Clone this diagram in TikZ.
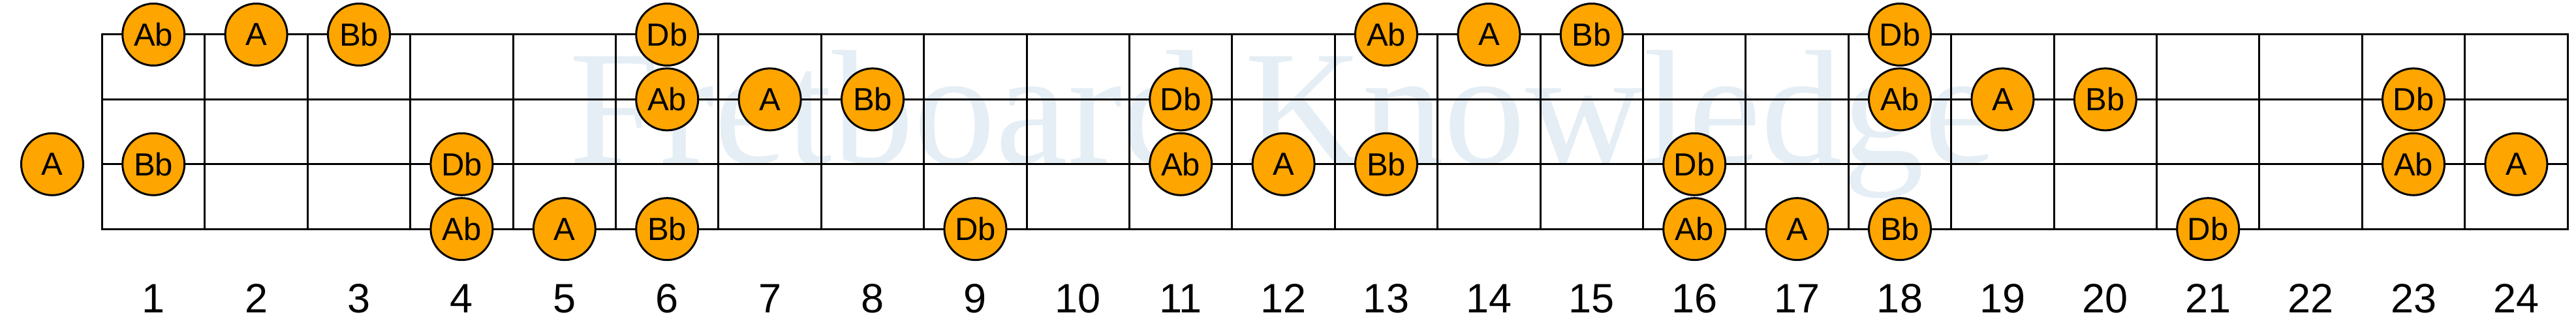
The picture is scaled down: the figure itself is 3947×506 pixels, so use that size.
\documentclass[tikz,border=0pt]{standalone}
\usepackage{fontspec}
\setmainfont{Liberation Sans}
\newfontfamily\wmfont{Liberation Serif}
\definecolor{noteorange}{RGB}{255,165,0}
\definecolor{wmblue}{RGB}{229,238,245}
\begin{document}
\begin{tikzpicture}[x=0.5pt,y=-0.5pt,
  gridline/.style={line width=1.5pt, draw=black},
  note/.style={circle, draw=black, line width=1.5pt, fill=noteorange, minimum size=47.5pt, inner sep=0pt, font=\fontsize{24.5}{26}\selectfont},
  fretnum/.style={anchor=base, inner sep=0pt, font=\fontsize{31.5}{34}\selectfont},
  watermark/.style={anchor=base, inner sep=0pt, text=wmblue, font=\wmfont\fontsize{125}{130}\selectfont}]
\useasboundingbox (0,0) rectangle (3947,506);
\fill[white] (0,0) rectangle (3947,506);
\node[watermark] (wm) at (1966,251) {Fretboard Knowledge};
% strings
\foreach \k in {0,...,3} {
  \pgfmathsetmacro\sy{53+99.4*\k}
  \draw[gridline] (156.5,\sy) -- (3934.1,\sy);
}
% frets
\foreach \i in {0,...,24} {
  \pgfmathsetmacro\fx{156.5+157.4*\i}
  \draw[gridline] (\fx,53) -- (\fx,351.2);
}
\draw[gridline] (156.5,53) rectangle (3934.1,351.2);
% fret numbers
\foreach \n in {1,...,24} {
  \pgfmathsetmacro\cx{156.5+157.4*(\n-0.5)}
  \node[fretnum] (num\n) at (\cx,480) {\n};
}
% notes
\foreach \s/\f/\t in {0/1/Ab,0/2/A,0/3/Bb,0/6/Db,0/13/Ab,0/14/A,0/15/Bb,0/18/Db,
  1/6/Ab,1/7/A,1/8/Bb,1/11/Db,1/18/Ab,1/19/A,1/20/Bb,1/23/Db,
  2/1/Bb,2/4/Db,2/11/Ab,2/12/A,2/13/Bb,2/16/Db,2/23/Ab,2/24/A,
  3/4/Ab,3/5/A,3/6/Bb,3/9/Db,3/16/Ab,3/17/A,3/18/Bb,3/21/Db} {
  \pgfmathsetmacro\cx{156.5+157.4*(\f-0.5)}
  \pgfmathsetmacro\cy{53+99.4*\s}
  \node[note] (n\s-\f) at (\cx,\cy) {\t};
}
\node[note] (open) at (80,251.8) {A};
\end{tikzpicture}
\end{document}
